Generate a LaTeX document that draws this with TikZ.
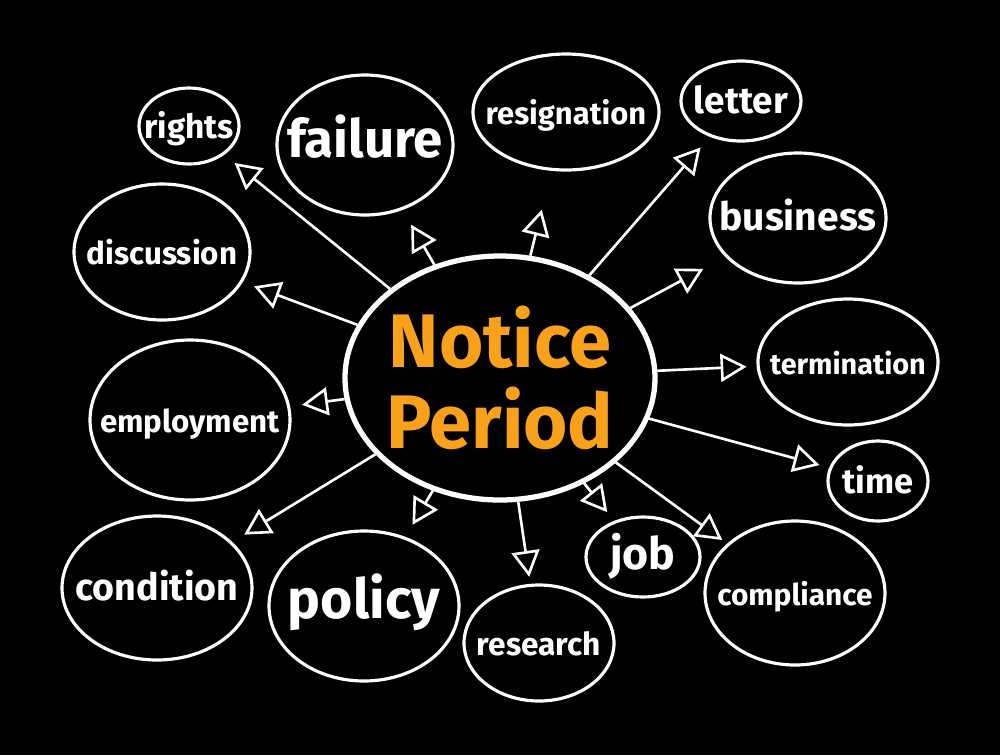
\documentclass[tikz,border=0pt]{standalone}
\usepackage{fontspec}
\setmainfont{Fira Sans}
\usetikzlibrary{arrows.meta,shapes.geometric}
\definecolor{noticeorange}{HTML}{F9A11B}
\newcommand\wordtext[1]{\makebox[0pt]{#1}}

\begin{document}
\begin{tikzpicture}[x=0.1mm,y=-0.1mm,->,>={Triangle[open,length=2.6mm,width=2.8mm]},
		line width=0.75pt,color=white,
		word node/.style={ellipse,draw=white,line width=0.9pt,text=white,inner sep=0pt,
			text height=1.3ex,text depth=0pt,font=\bfseries\fontsize{#1}{#1}\selectfont},
		center node/.style={ellipse,draw=white,line width=1.5pt,text=noticeorange,align=center,
			inner sep=-1.5mm,font=\bfseries\fontsize{21.6}{23}\selectfont}]
		
		\fill[black,-] (0,0) rectangle (1000,755);
		
		\node[center node,minimum width=31mm,minimum height=24.4mm] (np) at (500,378) {Notice\\Period};
		
		\node[word node=9.5,minimum width=10mm,minimum height=7.6mm] (rights) at (189,126) {\wordtext{rights}};
		\node[word node=15,minimum width=17.6mm,minimum height=14mm] (failure) at (365,145) {\wordtext{failure}};
		\node[word node=8.8,minimum width=18.6mm,minimum height=11.6mm] (resignation) at (566,112) {\wordtext{resignation}};
		\node[word node=10.5,minimum width=12mm,minimum height=8mm] (letter) at (741,101) {\wordtext{letter}};
		\node[word node=11.1,minimum width=17.6mm,minimum height=13mm] (business) at (798,218) {\wordtext{business}};
		\node[word node=8.9,minimum width=17.6mm,minimum height=13.6mm] (discussion) at (162,252) {\wordtext{discussion}};
		\node[word node=8.2,minimum width=18mm,minimum height=12.6mm] (termination) at (848,362) {\wordtext{termination}};
		\node[word node=8.9,minimum width=20mm,minimum height=16mm] (employment) at (190,420) {\wordtext{employment}};
		\node[word node=9.8,minimum width=10mm,minimum height=8mm] (time) at (878,481) {\wordtext{time}};
		\node[word node=10.7,minimum width=19mm,minimum height=14.4mm] (condition) at (157,588) {\wordtext{condition}};
		\node[word node=15.7,minimum width=19mm,minimum height=15mm] (policy) at (364,606) {\wordtext{policy}};
		\node[word node=9,minimum width=15mm,minimum height=11.6mm] (research) at (539,643) {\wordtext{research}};
		\node[word node=12.7,minimum width=11.4mm,minimum height=8mm] (job) at (643,557) {\wordtext{job}};
		\node[word node=8.5,minimum width=18mm,minimum height=14.4mm] (compliance) at (795,593) {\wordtext{compliance}};
		
		\path
		(np) edge[shorten >=1.3mm] (rights)
			edge[shorten >=1.7mm] (failure)
			edge[shorten >=4mm] (resignation)
			edge[shorten >=1.4mm] (letter)
			edge[shorten >=2.5mm] (business)
			edge[shorten >=1.2mm] (discussion)
			edge[shorten >=1.2mm] (employment)
			edge[shorten >=1mm] (termination)
			edge[shorten >=1mm] (time)
			edge[shorten >=1.4mm] (condition)
			edge[shorten >=1.4mm] (policy)
			edge[shorten >=0.7mm] (research)
			edge[shorten >=1.1mm] (job)
			edge[shorten >=0.6mm] (compliance);
		
\end{tikzpicture}
\end{document}
